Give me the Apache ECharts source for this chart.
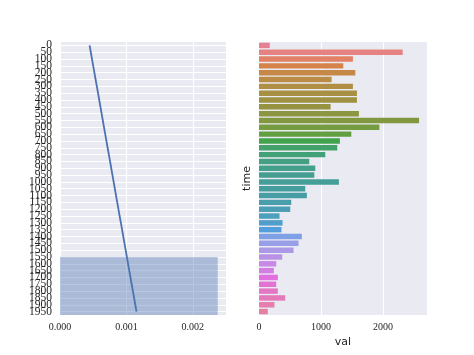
<!DOCTYPE html>
<html>
<head>
<meta charset="utf-8">
<script src="https://cdn.jsdelivr.net/npm/echarts@6/dist/echarts.min.js"></script>
<style>
html,body{margin:0;padding:0;background:#fff;}
#chart{width:474px;height:355px;}
</style>
</head>
<body>
<div id="chart"></div>
<script>
// ---- data ----
var times = ['0','50','100','150','200','250','300','350','400','450','500','550','600','650','700','750','800','850','900','950',
  '1000','1050','1100','1150','1200','1250','1300','1350','1400','1450','1500','1550','1600','1650','1700','1750','1800','1850','1900','1950'];
var lineVals = [0.000446,0.000464,0.000482,0.000500,0.000518,0.000536,0.000555,0.000573,0.000591,0.000609,
  0.000627,0.000645,0.000663,0.000681,0.000699,0.000717,0.000736,0.000754,0.000772,0.000790,
  0.000808,0.000826,0.000844,0.000862,0.000880,0.000898,0.000917,0.000935,0.000953,0.000971,
  0.000989,0.001007,0.001025,0.001043,0.001061,0.001079,0.001098,0.001116,0.001134,0.001152];
var barVals = [174,2318,1515,1360,1554,1171,1515,1580,1580,1155,
  1612,2582,1942,1489,1305,1263,1069,811,908,892,
  1289,746,772,520,504,331,380,363,691,638,
  557,375,278,239,304,278,304,423,250,142];
var leftTicks = [0, 0.001, 0.002];
var rightTicks = [0, 1000, 2000];
var shadeStart = '1550';

// ---- husl palette (seaborn style) ----
var M = [[3.2406,-1.5372,-0.4986],[-0.9689,1.8758,0.0415],[0.0557,-0.2040,1.0570]];
var refU=0.19784, refV=0.46834, kappa=903.29630, eps=0.0088564;
function maxChroma(L,H){
  var hrad=H/360*2*Math.PI, sinH=Math.sin(hrad), cosH=Math.cos(hrad);
  var sub1=Math.pow(L+16,3)/1560896, sub2=sub1>eps?sub1:L/kappa, result=Infinity;
  M.forEach(function(r){
    var m1=r[0],m2=r[1],m3=r[2];
    var top=(0.99915*m1+1.05122*m2+1.14460*m3)*sub2;
    var rb=0.86330*m3-0.17266*m2, lb=0.12949*m3-0.38848*m1;
    var bottom=(rb*sinH+lb*cosH)*sub2;
    [0,1].forEach(function(t){
      var C=L*(top-1.05122*t)/(bottom+0.17266*sinH*t);
      if(C>0&&C<result) result=C;
    });
  });
  return result;
}
function fromLinear(c){ return c<=0.0031308?12.92*c:1.055*Math.pow(c,1/2.4)-0.055; }
function huslToRgb(h,s,l){
  var C=maxChroma(l,h)/100*s, hrad=h/360*2*Math.PI;
  var U=Math.cos(hrad)*C, V=Math.sin(hrad)*C, L=l;
  var Y=L>8?Math.pow((L+16)/116,3):L/kappa;
  var vU=U/(13*L)+refU, vV=V/(13*L)+refV;
  var X=-(9*Y*vU)/((vU-4)*vV-vU*vV);
  var Z=(9*Y-15*vV*Y-vV*X)/(3*vV);
  return M.map(function(r){ var c=fromLinear(r[0]*X+r[1]*Y+r[2]*Z); return Math.min(1,Math.max(0,c)); });
}
function rgbToHls(r,g,b){
  var mx=Math.max(r,g,b), mn=Math.min(r,g,b), l=(mx+mn)/2, h, s;
  if(mx===mn) return [0,l,0];
  s = l<=0.5 ? (mx-mn)/(mx+mn) : (mx-mn)/(2-mx-mn);
  var rc=(mx-r)/(mx-mn), gc=(mx-g)/(mx-mn), bc=(mx-b)/(mx-mn);
  if(r===mx) h=bc-gc; else if(g===mx) h=2+rc-bc; else h=4+gc-rc;
  h=((h/6)%1+1)%1;
  return [h,l,s];
}
function _v(m1,m2,hue){
  hue=((hue%1)+1)%1;
  if(hue<1/6) return m1+(m2-m1)*hue*6;
  if(hue<0.5) return m2;
  if(hue<2/3) return m1+(m2-m1)*(2/3-hue)*6;
  return m1;
}
function hlsToRgb(h,l,s){
  if(s===0) return [l,l,l];
  var m2=l<=0.5?l*(1+s):l+s-l*s, m1=2*l-m2;
  return [_v(m1,m2,h+1/3),_v(m1,m2,h),_v(m1,m2,h-1/3)];
}
function toHex(rgb){ return '#'+rgb.map(function(c){ var v=Math.round(c*255).toString(16); return v.length<2?'0'+v:v; }).join(''); }
var n=times.length, palette=[];
for(var i=0;i<n;i++){
  var hue=((i/n+0.01)%1)*359;
  var rgb=huslToRgb(hue,0.9*99,0.65*99);
  var hls=rgbToHls(rgb[0],rgb[1],rgb[2]);
  palette.push(toHex(hlsToRgb(hls[0],hls[1],hls[2]*0.75)));
}

var serif='Liberation Serif', sans='DejaVu Sans', txt='#262626';
var chart=echarts.init(document.getElementById('chart'),null,{renderer:'canvas'});
chart.setOption({
  animation:false,
  backgroundColor:'#ffffff',
  grid:[
    {left:60,top:42,width:166,height:273,show:true,backgroundColor:'#eaeaf2',borderWidth:0},
    {left:259,top:42,width:168,height:273,show:true,backgroundColor:'#eaeaf2',borderWidth:0}
  ],
  xAxis:[
    {type:'value',gridIndex:0,min:0,max:0.0025,interval:0.001,
     axisLine:{show:false},axisTick:{show:false},
     splitLine:{show:true,lineStyle:{color:'#ffffff',width:1}},
     axisLabel:{showMaxLabel:false,fontFamily:serif,fontSize:10,color:txt,margin:7,
       formatter:function(v){ return leftTicks.indexOf(v)>=0||Math.abs(v)<1e-12 ? v.toFixed(3) : ''; }}},
    {type:'value',gridIndex:1,min:0,max:2710,interval:1000,
     axisLine:{show:false},axisTick:{show:false},
     splitLine:{show:true,lineStyle:{color:'#ffffff',width:1}},
     axisLabel:{showMaxLabel:false,fontFamily:serif,fontSize:10,color:txt,margin:7,
       formatter:function(v){ return rightTicks.indexOf(v)>=0 ? String(v) : ''; }},
     name:'val',nameLocation:'middle',nameGap:21,
     nameTextStyle:{fontFamily:sans,fontSize:11,color:txt}}
  ],
  yAxis:[
    {type:'category',gridIndex:0,data:times,inverse:true,
     axisLine:{show:false},axisTick:{show:false},
     splitLine:{show:true,alignWithLabel:true,lineStyle:{color:'#ffffff',width:1}},
     axisLabel:{interval:0,fontFamily:serif,fontSize:11.5,color:txt,margin:8}},
    {type:'category',gridIndex:1,data:times,inverse:true,
     axisLine:{show:false},axisTick:{show:false},splitLine:{show:false},
     axisLabel:{show:false},
     name:'time',nameLocation:'middle',nameGap:6,
     nameTextStyle:{fontFamily:sans,fontSize:11,color:txt}},
    {type:'value',gridIndex:0,inverse:true,min:-0.5,max:times.length-0.5,show:false,splitLine:{show:false}}
  ],
  series:[
    {type:'line',xAxisIndex:0,yAxisIndex:2,data:[],silent:true,z:3,
     markArea:{silent:true,itemStyle:{color:'#4c72b0',opacity:0.4},
       data:[[{xAxis:0,yAxis:times.indexOf(shadeStart)},{xAxis:0.95*0.0025,yAxis:times.length-0.5}]]}},
    {type:'line',xAxisIndex:0,yAxisIndex:0,z:4,
     data:times.map(function(t,i){ return [lineVals[i],t]; }),
     showSymbol:false,symbol:'none',lineStyle:{color:'#4c72b0',width:1.8}},
    {type:'bar',xAxisIndex:1,yAxisIndex:1,barWidth:'80%',
     data:barVals.map(function(v,i){ return {value:v,itemStyle:{color:palette[i]}}; })}
  ]
});
</script>
</body>
</html>
